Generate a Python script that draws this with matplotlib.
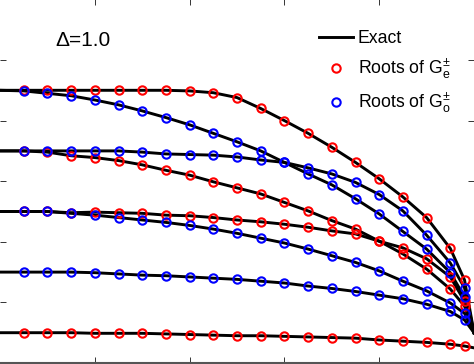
import matplotlib
matplotlib.use("Agg")
import matplotlib.pyplot as plt
from matplotlib.lines import Line2D

plt.rcParams['font.family'] = ['Liberation Sans', 'DejaVu Sans']
plt.rcParams['mathtext.fontset'] = 'custom'
plt.rcParams['mathtext.rm'] = 'Liberation Sans'
plt.rcParams['mathtext.it'] = 'Liberation Sans:italic'

# sample points: 0, 0.05 ... 0.95, 0.98, 1.0  (markers at 0.05 ... 0.98)
x_pts = [0.0, 0.05, 0.10, 0.15, 0.20, 0.25, 0.30, 0.35, 0.40, 0.45, 0.50,
         0.55, 0.60, 0.65, 0.70, 0.75, 0.80, 0.85, 0.90, 0.95, 0.98, 1.0]

# even branch (red)
even_a = [4.50, 4.50, 4.50, 4.50, 4.50, 4.50, 4.50, 4.50, 4.49, 4.46, 4.38,
          4.20, 4.00, 3.79, 3.56, 3.31, 3.04, 2.74, 2.40, 1.89, 1.37, 0.50]
even_d = [3.50, 3.50, 3.48, 3.42, 3.39, 3.34, 3.27, 3.18, 3.10, 2.99, 2.89,
          2.79, 2.65, 2.51, 2.35, 2.21, 2.01, 1.80, 1.55, 1.22, 0.94, 0.50]
even_e = [2.50, 2.50, 2.50, 2.48, 2.49, 2.48, 2.47, 2.44, 2.43, 2.40, 2.36,
          2.33, 2.29, 2.24, 2.18, 2.13, 2.01, 1.90, 1.72, 1.42, 1.02, 0.50]
even_h = [0.50, 0.50, 0.50, 0.50, 0.49, 0.49, 0.49, 0.48, 0.47, 0.46, 0.45,
          0.45, 0.44, 0.43, 0.42, 0.41, 0.38, 0.36, 0.34, 0.31, 0.28, 0.25]

# odd branch (blue)
odd_b = [4.50, 4.49, 4.45, 4.41, 4.34, 4.26, 4.16, 4.05, 3.93, 3.79, 3.65,
         3.50, 3.31, 3.12, 2.94, 2.71, 2.46, 2.17, 1.88, 1.49, 1.09, 0.50]
odd_c = [3.50, 3.50, 3.50, 3.50, 3.50, 3.50, 3.48, 3.45, 3.44, 3.43, 3.40,
         3.35, 3.31, 3.22, 3.12, 2.98, 2.78, 2.51, 2.11, 1.65, 1.24, 0.50]
odd_f = [2.50, 2.50, 2.50, 2.47, 2.44, 2.40, 2.36, 2.32, 2.27, 2.21, 2.14,
         2.06, 1.98, 1.88, 1.77, 1.66, 1.52, 1.35, 1.19, 0.99, 0.82, 0.50]
odd_g = [1.50, 1.50, 1.50, 1.50, 1.49, 1.47, 1.45, 1.44, 1.42, 1.40, 1.38,
         1.35, 1.32, 1.27, 1.23, 1.18, 1.12, 1.06, 0.97, 0.85, 0.71, 0.50]

even_curves = [even_a, even_d, even_e, even_h]
odd_curves = [odd_b, odd_c, odd_f, odd_g]

fig = plt.figure(figsize=(4.74, 3.64), dpi=100)
ax = fig.add_axes([0.0, 1 / 364, 1.0, 363.6 / 364])

for ys in even_curves + odd_curves:
    ax.plot(x_pts, ys, color='k', lw=2.1, zorder=2)

mk = dict(ls='none', marker='o', mfc='none', ms=6.0, mew=1.5, zorder=3)
for ys in even_curves:
    ax.plot(x_pts[1:-1], ys[1:-1], mec='r', **mk)
for ys in odd_curves:
    ax.plot(x_pts[1:-1], ys[1:-1], mec='b', **mk)

ax.set_xlim(0, 1)
ax.set_ylim(0, 6)
ax.set_xticks([0.2, 0.4, 0.6, 0.8])
ax.set_yticks([1, 2, 3, 4, 5])
ax.tick_params(direction='in', top=True, right=True, length=4, width=0.7,
               color='#333333', labelbottom=False, labelleft=False)
for side in ['top', 'left', 'right']:
    ax.spines[side].set_visible(False)
ax.spines['bottom'].set_color('#555555')
ax.spines['bottom'].set_linewidth(1.5)

ax.text(0.116, 5.33, '\u0394=1.0', fontsize=15, ha='left', va='center')

handles = [
    Line2D([], [], color='k', lw=2.1),
    Line2D([], [], ls='none', marker='o', mfc='none', mec='r', ms=6.0, mew=1.5),
    Line2D([], [], ls='none', marker='o', mfc='none', mec='b', ms=6.0, mew=1.5),
]
labels = ['Exact', r'Roots of G$^{\pm}_{\mathrm{e}}$', r'Roots of G$^{\pm}_{\mathrm{o}}$']
ax.legend(handles, labels, loc='upper left', bbox_to_anchor=(0.673, 0.915),
          frameon=False, fontsize=12.7, handlelength=1.9, handletextpad=0.3,
          borderpad=0, borderaxespad=0, labelspacing=0.55)

fig.savefig('out.png', dpi=100)
